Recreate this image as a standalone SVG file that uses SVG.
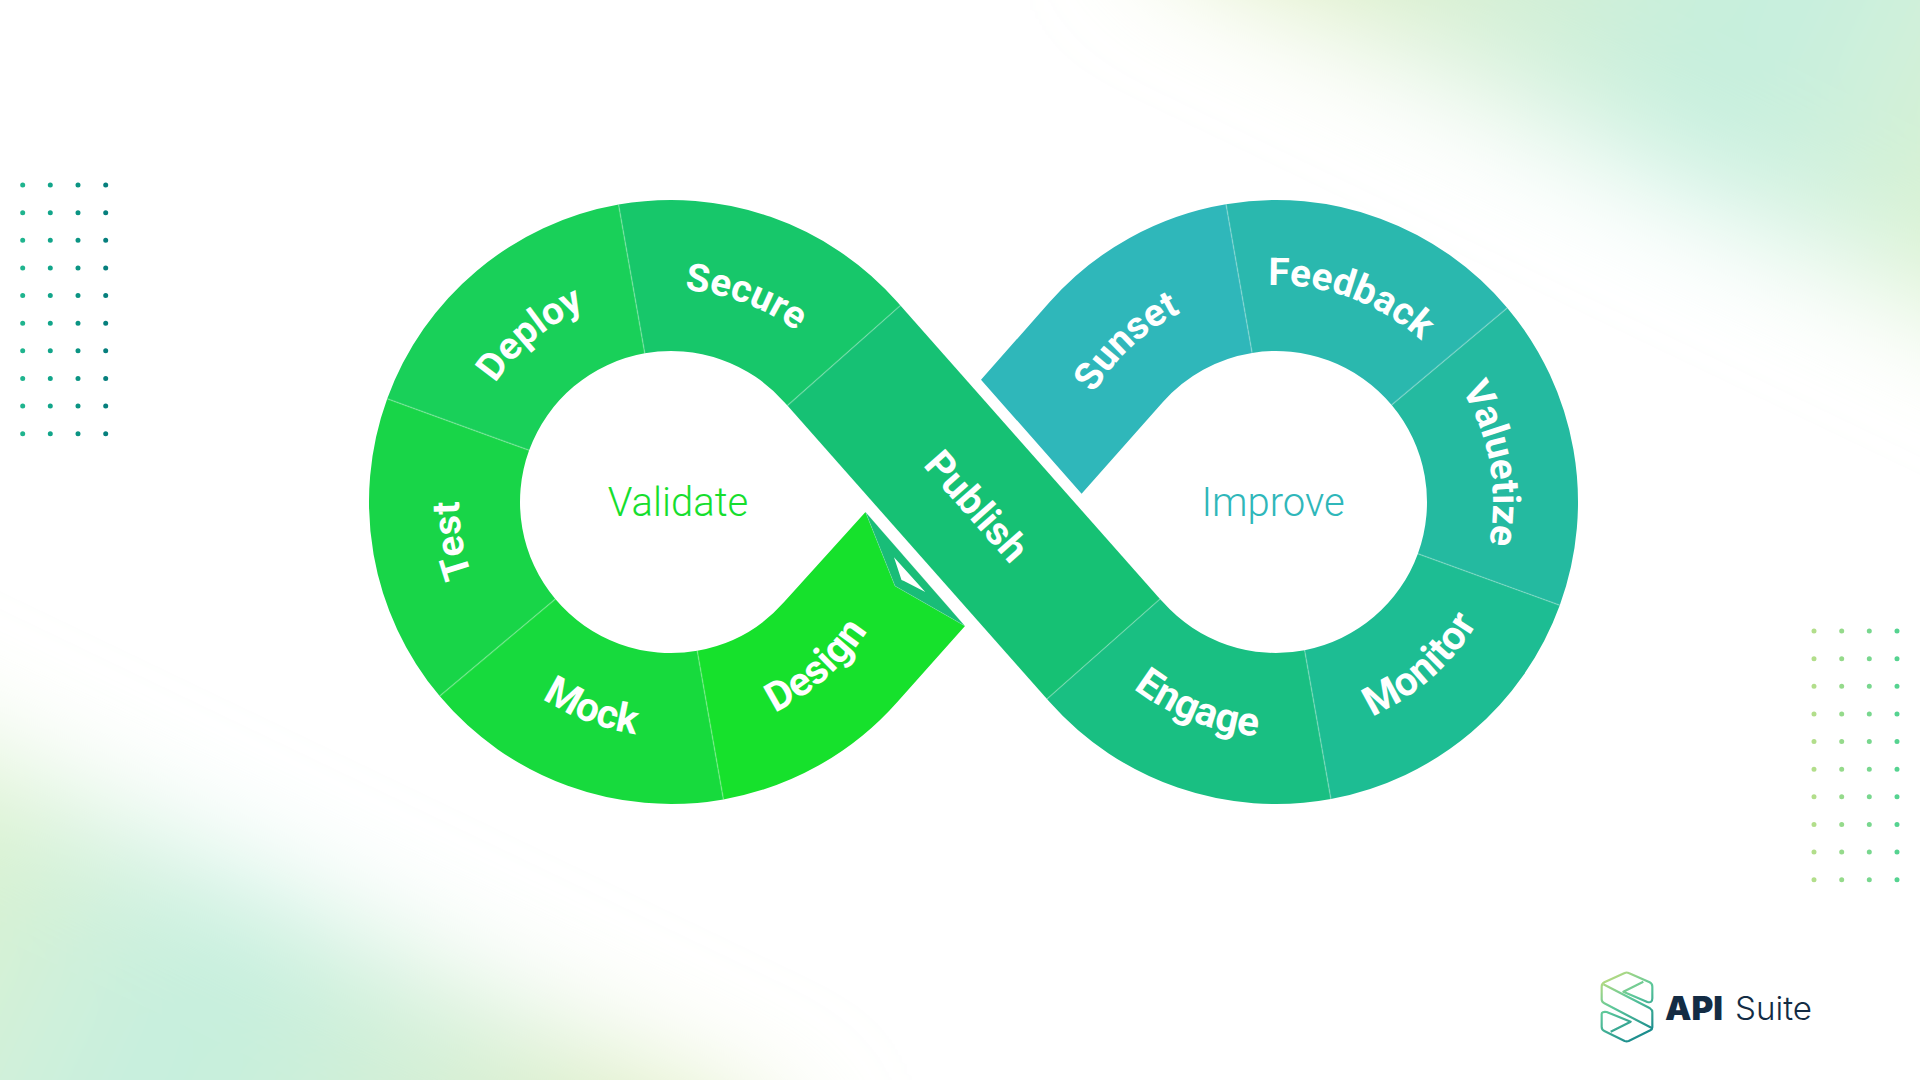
<svg xmlns="http://www.w3.org/2000/svg" xmlns:xlink="http://www.w3.org/1999/xlink" width="1920" height="1080" viewBox="0 0 1920 1080">
<style>
.lbl{font-family:Roboto,"Liberation Sans",sans-serif;font-weight:700;font-size:38.5px;fill:#fff;text-anchor:middle}
.low{font-size:40.5px}
.hub{font-family:Roboto,"Liberation Sans",sans-serif;font-weight:300;font-size:40px;text-anchor:middle}
.div{stroke:#fff;stroke-opacity:.22;stroke-width:1.6;fill:none}
.dots{fill:none;stroke-width:5;stroke-linecap:round;stroke-dasharray:0 27.63}
</style>
<defs>
<filter id="b" filterUnits="userSpaceOnUse" x="800" y="-600" width="1700" height="1500"><feGaussianBlur stdDeviation="62"/></filter>
<path id="top" d="M-212 0A212 212 0 0 1 212 0"/>
<path id="top2" d="M-217 0A217 217 0 0 1 217 0"/>
<path id="bot" d="M-235 0A235 235 0 0 0 235 0"/>
<linearGradient id="glow" gradientUnits="userSpaceOnUse" x1="1250" y1="0" x2="1950" y2="330"><stop offset="0" stop-color="#dcecbc"/><stop offset=".25" stop-color="#d6efd4"/><stop offset=".6" stop-color="#c4efde"/><stop offset=".78" stop-color="#cff0dc"/><stop offset=".95" stop-color="#d9f2d0"/><stop offset="1" stop-color="#def3d0"/></linearGradient>
<polygon id="glowshape" fill="url(#glow)" filter="url(#b)" points="1155,-65 2300,483 2300,-300 1155,-300"/>
<linearGradient id="lg" gradientUnits="userSpaceOnUse" x1="130" y1="100" x2="250" y2="300"><stop offset="0" stop-color="#c8de7c"/><stop offset=".45" stop-color="#5cc79a"/><stop offset="1" stop-color="#14868c"/></linearGradient>
</defs>
<rect width="1920" height="1080" fill="#fff"/>
<g id="background">
<use href="#glowshape"/>
<use href="#glowshape" transform="translate(1937 1074) rotate(180)"/>
</g>
<g id="dots-left">
<path class="dots" stroke="#1fb48e" d="M22.7 185V435"/>
<path class="dots" stroke="#12a58a" d="M50.3 185V435"/>
<path class="dots" stroke="#0b9483" d="M78 185V435"/>
<path class="dots" stroke="#067f7d" d="M105.7 185V435"/>
</g>
<g id="dots-right">
<path class="dots" stroke="#b2de8b" d="M1814 631V880"/>
<path class="dots" stroke="#95da8b" d="M1841.7 631V880"/>
<path class="dots" stroke="#78d78e" d="M1869.3 631V880"/>
<path class="dots" stroke="#55d390" d="M1897 631V880"/>
</g>
<g id="sunset"><path fill="#2fb7ba" d="M981 379.7L1049.9 301.8A302 302 0 0 1 1226 204.2L1252.1 352.9A151 151 0 0 0 1162.9 401.9L1081.6 493.7Z"/><g transform="translate(1276 502) rotate(-43)"><text class="lbl"><textPath href="#top" startOffset="50%">Sunset</textPath></text></g></g>
<g id="feedback"><path fill="#2ab8ae" d="M1226 204.2A302 302 0 0 1 1507.34 307.88L1391.67 404.94A151 151 0 0 0 1252.1 352.9Z"/><g transform="translate(1276 502) rotate(20)"><text class="lbl"><textPath href="#top2" startOffset="50%">Feedback</textPath></text></g></g>
<g id="valuetize"><path fill="#24baa0" d="M1507.34 307.88A302 302 0 0 1 1559.79 605.29L1417.89 553.65A151 151 0 0 0 1391.67 404.94Z"/><g transform="translate(1276 502) rotate(80)"><text class="lbl"><textPath href="#top2" startOffset="50%">Valuetize</textPath></text></g></g>
<g id="monitor"><path fill="#1dbd93" d="M1559.79 605.29A302 302 0 0 1 1330.9 799L1304.6 650.2A151 151 0 0 0 1417.89 553.65Z"/><g transform="translate(1276 502) rotate(-41.5)"><text class="lbl low"><textPath href="#bot" startOffset="50%">Monitor</textPath></text></g></g>
<g id="engage"><path fill="#19bf82" d="M1330.9 799A302 302 0 0 1 1049.9 702.2L1047 699L1160 599L1162.9 602.1A151 151 0 0 0 1304.6 650.2Z"/><g transform="translate(1276 502) rotate(21)"><text class="lbl low"><textPath href="#bot" startOffset="50%">Engage</textPath></text></g></g>
<g id="publish"><path fill="#16c174" d="M900.4 305.5L1160 599L1047 699L787.4 405.6Z"/><text class="lbl" style="font-size:39.5px" transform="translate(977 506) rotate(48.5)" y="14">Publish</text></g>
<g id="secure"><path fill="#17c76a" d="M618.56 204.59A302 302 0 0 1 897.1 301.8L900.4 305.5L787.4 405.6L784.1 401.9A151 151 0 0 0 644.78 353.29Z"/><g transform="translate(671 502) rotate(20)"><text class="lbl"><textPath href="#top" startOffset="50%">Secure</textPath></text></g></g>
<g id="deploy"><path fill="#19d059" d="M387.21 398.71A302 302 0 0 1 618.56 204.59L644.78 353.29A151 151 0 0 0 529.11 450.35Z"/><g transform="translate(671 502) rotate(-40)"><text class="lbl"><textPath href="#top" startOffset="50%">Deploy</textPath></text></g></g>
<g id="test"><path fill="#18d548" d="M439.66 696.12A302 302 0 0 1 387.21 398.71L529.11 450.35A151 151 0 0 0 555.33 599.06Z"/><g transform="translate(671 502) rotate(-100)"><text class="lbl"><textPath href="#top" startOffset="50%">Test</textPath></text></g></g>
<g id="mock"><path fill="#17da3d" d="M723.44 799.41A302 302 0 0 1 439.66 696.12L555.33 599.06A151 151 0 0 0 697.22 650.71Z"/><g transform="translate(671 502) rotate(21)"><text class="lbl low"><textPath href="#bot" startOffset="50%">Mock</textPath></text></g></g>
<g id="design"><path fill="#16e12c" d="M865.5 512L784.1 602.1A151 151 0 0 1 697.22 650.71L723.44 799.41A302 302 0 0 0 897.1 702.2L965 626L895 586Z"/><path fill="#19bd78" stroke="#fff" stroke-opacity=".15" d="M865.5 512L965 626L895 586Z"/><path fill="#fff" d="M894 557.3L925.3 592L904 581L901.5 580Z"/><g transform="translate(671 502) rotate(-41.5)"><text class="lbl low"><textPath href="#bot" startOffset="50%">Design</textPath></text></g></g>
<g id="dividers" class="div">
<path d="M618.56 204.59L644.78 353.29M387.21 398.71L529.11 450.35M439.66 696.12L555.33 599.06M723.44 799.41L697.22 650.71M900.4 305.5L787.4 405.6M1160 599L1047 699M1226 204.2L1252.1 352.9M1507.34 307.88L1391.67 404.94M1559.79 605.29L1417.89 553.65M1330.9 799L1304.6 650.2"/>
</g>
<g id="validate"><text class="hub" x="678" y="515.5" fill="#16de2e">Validate</text></g>
<g id="improve"><text class="hub" x="1273" y="515.5" fill="#2fb7ba">Improve</text></g>
<g id="logo">
<g transform="translate(1560 940) scale(.33333)" fill="none" stroke="url(#lg)" stroke-width="6.5" stroke-linejoin="round">
<path d="M250 125L190 155L262 186Q277 190 277 175V140Q277 131 269 127L206 99Q200 96 194 99L133 127Q125 131 125 140V178Q125 186 133 190L277 265"/>
<path d="M130 133L270 205Q277 209 277 217V262Q277 268 271 271L206 303Q200 305 194 303L133 273Q125 269 125 260V222Q125 214 140 216L212 245L152 275"/>
</g>
<text x="1665" y="1019.5" font-family="Inter,'Liberation Sans',sans-serif" font-weight="900" font-size="33" fill="#132c44" textLength="58" lengthAdjust="spacingAndGlyphs">API</text>
<text x="1735" y="1019.5" font-family="Inter,'Liberation Sans',sans-serif" font-weight="300" font-size="33" fill="#132c44" textLength="77" lengthAdjust="spacingAndGlyphs">Suite</text>
</g>
</svg>
